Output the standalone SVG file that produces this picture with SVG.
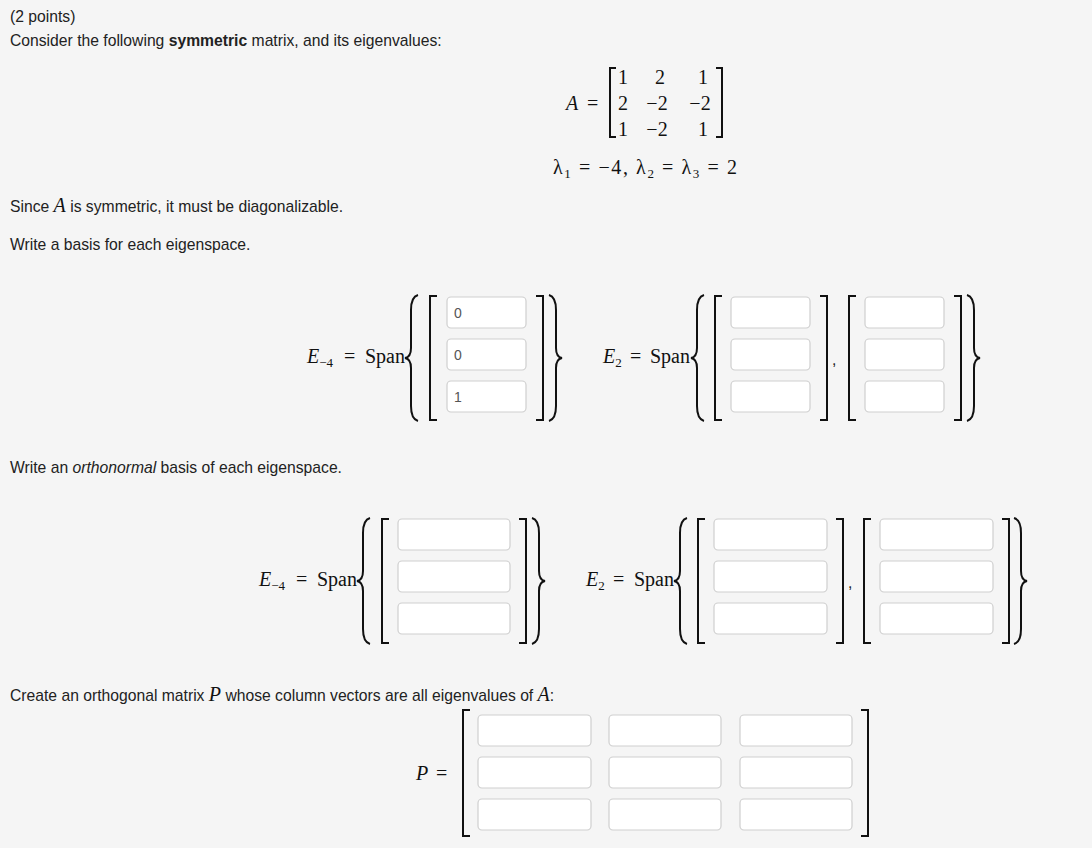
<svg xmlns="http://www.w3.org/2000/svg" width="1092" height="848" viewBox="0 0 1092 848">
<style>
.t{font-family:"Liberation Sans",Arial,sans-serif;font-size:15.7px;fill:#222}
.m{font-family:"Liberation Serif","DejaVu Serif",serif;font-size:20px;fill:#111}
.in{fill:#fff;stroke:#cfcfcf;stroke-width:1.2}
.v{font-family:"Liberation Sans",Arial,sans-serif;font-size:14px;fill:#555}
.b{fill:none;stroke:#111;stroke-width:2}
</style>
<rect width="1092" height="848" fill="#f5f5f5"/>
<text class="t" x="10" y="22">(2 points)</text>
<text class="t" x="10" y="46">Consider the following <tspan font-weight="bold">symmetric</tspan> matrix, and its eigenvalues:</text>
<!-- matrix A -->
<text class="m" x="566" y="110"><tspan font-style="italic">A</tspan> <tspan x="587">=</tspan></text>
<path class="b" d="M616,68 H610 V137 H616 M716,68 H722 V137 H716"/>
<g class="m" text-anchor="middle">
<text x="623" y="84">1</text><text x="660" y="84">2</text><text x="703" y="84">1</text>
<text x="623" y="110">2</text><text x="657" y="110">−2</text><text x="700" y="110">−2</text>
<text x="623" y="136">1</text><text x="657" y="136">−2</text><text x="703" y="136">1</text>
</g>
<text class="m" x="553" y="174" textLength="184" lengthAdjust="spacing">λ<tspan font-size="13" dy="4">1</tspan><tspan dy="-4"> = −4, λ</tspan><tspan font-size="13" dy="4">2</tspan><tspan dy="-4"> = λ</tspan><tspan font-size="13" dy="4">3</tspan><tspan dy="-4"> = 2</tspan></text>
<text class="t" x="10" y="212">Since <tspan class="m" font-style="italic" font-size="20">A</tspan> is symmetric, it must be diagonalizable.</text>
<text class="t" x="10" y="250">Write a basis for each eigenspace.</text>
<!-- Section 1 -->
<g id="e4a">
<text class="m" x="307" y="363"><tspan font-style="italic">E</tspan><tspan font-size="13" dy="4">−4</tspan><tspan dy="-4" x="344">=</tspan><tspan x="365">Span</tspan></text>
<path class="b" d="M418,295 Q411,297 411,310 V348 Q411,357 405,358 Q411,359 411,368 V406 Q411,419 418,421"/>
<path class="b" d="M437,296 H430 V420 H437 M536,296 H543 V420 H536"/>
<path class="b" d="M549,295 Q556,297 556,310 V348 Q556,357 562,358 Q556,359 556,368 V406 Q556,419 549,421"/>
<rect class="in" x="447" y="297" width="79" height="31" rx="4"/><text class="v" x="454" y="318">0</text>
<rect class="in" x="447" y="339" width="79" height="31" rx="4"/><text class="v" x="454" y="360">0</text>
<rect class="in" x="447" y="381" width="79" height="31" rx="4"/><text class="v" x="454" y="402">1</text>
</g>
<g id="e2a">
<text class="m" x="603" y="363"><tspan font-style="italic">E</tspan><tspan font-size="13" dy="4">2</tspan><tspan dy="-4" x="630">=</tspan><tspan x="650">Span</tspan></text>
<path class="b" d="M704,295 Q697,297 697,310 V348 Q697,357 691,358 Q697,359 697,368 V406 Q697,419 704,421"/>
<path class="b" d="M722,296 H715 V420 H722 M820,296 H827 V420 H820"/>
<text class="t" x="832" y="365">,</text>
<path class="b" d="M856,296 H849 V420 H856 M954,296 H961 V420 H954"/>
<path class="b" d="M967,295 Q974,297 974,310 V348 Q974,357 980,358 Q974,359 974,368 V406 Q974,419 967,421"/>
<rect class="in" x="731" y="297" width="79" height="31" rx="4"/>
<rect class="in" x="731" y="339" width="79" height="31" rx="4"/>
<rect class="in" x="731" y="381" width="79" height="31" rx="4"/>
<rect class="in" x="865" y="297" width="79" height="31" rx="4"/>
<rect class="in" x="865" y="339" width="79" height="31" rx="4"/>
<rect class="in" x="865" y="381" width="79" height="31" rx="4"/>
</g>
<text class="t" x="10" y="473">Write an <tspan font-style="italic">orthonormal</tspan> basis of each eigenspace.</text>
<!-- Section 2 -->
<g id="e4b">
<text class="m" x="259" y="586"><tspan font-style="italic">E</tspan><tspan font-size="13" dy="4">−4</tspan><tspan dy="-4" x="296">=</tspan><tspan x="317">Span</tspan></text>
<path class="b" d="M370,518 Q363,520 363,533 V571 Q363,580 357,581 Q363,582 363,591 V629 Q363,642 370,644"/>
<path class="b" d="M389,519 H382 V643 H389 M519,519 H526 V643 H519"/>
<path class="b" d="M532,518 Q539,520 539,533 V571 Q539,580 545,581 Q539,582 539,591 V629 Q539,642 532,644"/>
<rect class="in" x="398" y="519" width="112" height="31" rx="4"/>
<rect class="in" x="398" y="561" width="112" height="31" rx="4"/>
<rect class="in" x="398" y="603" width="112" height="31" rx="4"/>
</g>
<g id="e2b">
<text class="m" x="586" y="586"><tspan font-style="italic">E</tspan><tspan font-size="13" dy="4">2</tspan><tspan dy="-4" x="613">=</tspan><tspan x="634">Span</tspan></text>
<path class="b" d="M687,518 Q680,520 680,533 V571 Q680,580 674,581 Q680,582 680,591 V629 Q680,642 687,644"/>
<path class="b" d="M705,519 H698 V643 H705 M836,519 H843 V643 H836"/>
<text class="t" x="848" y="588">,</text>
<path class="b" d="M871,519 H864 V643 H871 M1002,519 H1009 V643 H1002"/>
<path class="b" d="M1014,518 Q1021,520 1021,533 V571 Q1021,580 1027,581 Q1021,582 1021,591 V629 Q1021,642 1014,644"/>
<rect class="in" x="714" y="519" width="113" height="31" rx="4"/>
<rect class="in" x="714" y="561" width="113" height="31" rx="4"/>
<rect class="in" x="714" y="603" width="113" height="31" rx="4"/>
<rect class="in" x="880" y="519" width="113" height="31" rx="4"/>
<rect class="in" x="880" y="561" width="113" height="31" rx="4"/>
<rect class="in" x="880" y="603" width="113" height="31" rx="4"/>
</g>
<text class="t" x="10" y="701">Create an orthogonal matrix <tspan class="m" font-style="italic" font-size="20">P</tspan> whose column vectors are all eigenvalues of <tspan class="m" font-style="italic" font-size="20">A</tspan>:</text>
<g id="p">
<text class="m" x="416" y="780"><tspan font-style="italic">P</tspan><tspan x="436">=</tspan></text>
<path class="b" d="M470,710 H463 V836 H470 M861,710 H868 V836 H861"/>
<rect class="in" x="478" y="715" width="113" height="31" rx="4"/>
<rect class="in" x="478" y="757" width="113" height="31" rx="4"/>
<rect class="in" x="478" y="799" width="113" height="31" rx="4"/>
<rect class="in" x="609" y="715" width="112" height="31" rx="4"/>
<rect class="in" x="609" y="757" width="112" height="31" rx="4"/>
<rect class="in" x="609" y="799" width="112" height="31" rx="4"/>
<rect class="in" x="740" y="715" width="112" height="31" rx="4"/>
<rect class="in" x="740" y="757" width="112" height="31" rx="4"/>
<rect class="in" x="740" y="799" width="112" height="31" rx="4"/>
</g>
</svg>
